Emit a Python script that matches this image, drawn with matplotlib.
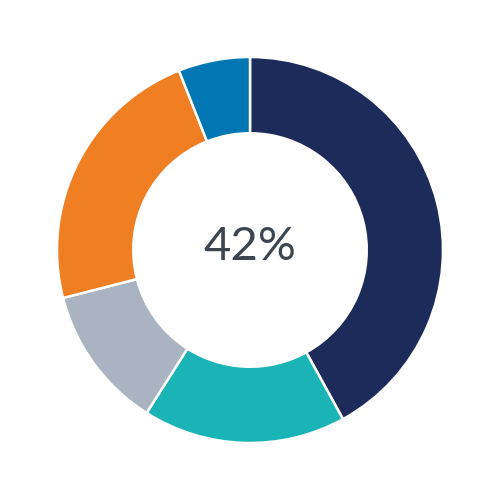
import matplotlib.pyplot as plt

# segment shares (clockwise from 12 o'clock)
labels = ['Navy', 'Teal', 'Gray', 'Orange', 'Blue']
values = [42, 17, 12, 23, 6]
colors = ['#1d2b5b', '#1bb4b6', '#a9b3c1', '#f07e22', '#0076b5']
center_label = '42%'

fig = plt.figure(figsize=(5, 5), dpi=100)
ax = fig.add_axes([0, 0, 1, 1])
ax.pie(values, colors=colors, startangle=90, counterclock=False,
       radius=0.772,
       wedgeprops=dict(width=0.305, edgecolor='white', linewidth=1.8))
ax.text(0, 0.01, center_label, ha='center', va='center', fontsize=34,
        color='#3d4550', family=['Lato', 'DejaVu Sans'])
ax.set_xlim(-1, 1)
ax.set_ylim(-1, 1)
ax.set_aspect('equal')
ax.axis('off')
plt.savefig('out.png', dpi=100)
